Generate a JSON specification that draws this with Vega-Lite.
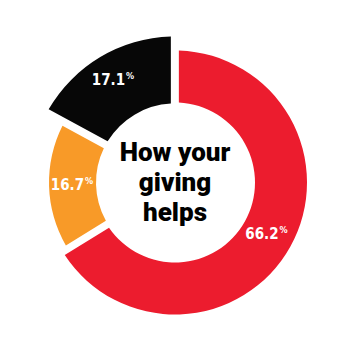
{
  "$schema": "https://vega.github.io/schema/vega-lite/v6.json",
  "width": 350,
  "height": 350,
  "autosize": {"type": "fit", "contains": "padding"},
  "padding": {"top": 15, "bottom": 0, "left": 0, "right": 0},
  "background": "white",
  "config": {"view": {"stroke": null}},
  "layer": [
    {
      "data": {"values": [
        {"segment": "Segment A", "share": 66.2},
        {"segment": "Segment B", "share": 16.7},
        {"segment": "Segment C", "share": 17.1}
      ]},
      "layer": [
        {
          "transform": [
            {"stack": "share", "groupby": [], "sort": [{"field": "segment", "order": "ascending"}], "as": ["s0", "s1"]}
          ],
          "encoding": {
            "theta": {"field": "s0", "type": "quantitative", "scale": {"domain": [0, 100]}},
            "theta2": {"field": "s1"},
            "color": {"field": "segment", "type": "nominal", "scale": {"domain": ["Segment A", "Segment B", "Segment C"], "range": ["#ec1c2e", "#f89a28", "#070707"]}, "legend": null}
          },
          "layer": [
            {
              "transform": [{"filter": "datum.segment === 'Segment A'"}],
              "mark": {"type": "arc", "radius": 132, "radius2": 80, "padAngle": 0.05}
            },
            {
              "transform": [{"filter": "datum.segment === 'Segment B'"}],
              "mark": {"type": "arc", "radius": 126, "radius2": 79, "padAngle": 0.05}
            },
            {
              "transform": [{"filter": "datum.segment === 'Segment C'"}],
              "mark": {"type": "arc", "radius": 146, "radius2": 79, "padAngle": 0.05}
            }
          ]
        },
        {
          "encoding": {
            "theta": {"field": "share", "type": "quantitative", "stack": true},
            "order": {"field": "segment", "type": "ordinal", "sort": "ascending"},
            "color": {"value": "white"}
          },
          "layer": [
            {
              "mark": {"type": "text", "radius": 106, "align": "right", "baseline": "middle", "dx": 11, "font": "DejaVu Sans Condensed, Roboto Condensed, Roboto, sans-serif", "fontWeight": "bold", "fontSize": 15},
              "encoding": {"text": {"condition": {"test": "datum.segment === 'Segment A'", "field": "share", "type": "quantitative", "format": ".1f"}, "value": ""}}
            },
            {
              "mark": {"type": "text", "radius": 102, "align": "right", "baseline": "middle", "dx": 11, "font": "DejaVu Sans Condensed, Roboto Condensed, Roboto, sans-serif", "fontWeight": "bold", "fontSize": 15},
              "encoding": {"text": {"condition": {"test": "datum.segment === 'Segment B'", "field": "share", "type": "quantitative", "format": ".1f"}, "value": ""}}
            },
            {
              "mark": {"type": "text", "radius": 119, "align": "right", "baseline": "middle", "dx": 11, "font": "DejaVu Sans Condensed, Roboto Condensed, Roboto, sans-serif", "fontWeight": "bold", "fontSize": 15},
              "encoding": {"text": {"condition": {"test": "datum.segment === 'Segment C'", "field": "share", "type": "quantitative", "format": ".1f"}, "value": ""}}
            },
            {
              "mark": {"type": "text", "radius": 106, "align": "left", "baseline": "middle", "dx": 12, "dy": -4, "font": "DejaVu Sans Condensed, Roboto Condensed, Roboto, sans-serif", "fontWeight": "bold", "fontSize": 9},
              "encoding": {"text": {"condition": {"test": "datum.segment === 'Segment A'", "value": "%"}, "value": ""}}
            },
            {
              "mark": {"type": "text", "radius": 102, "align": "left", "baseline": "middle", "dx": 12, "dy": -4, "font": "DejaVu Sans Condensed, Roboto Condensed, Roboto, sans-serif", "fontWeight": "bold", "fontSize": 9},
              "encoding": {"text": {"condition": {"test": "datum.segment === 'Segment B'", "value": "%"}, "value": ""}}
            },
            {
              "mark": {"type": "text", "radius": 119, "align": "left", "baseline": "middle", "dx": 12, "dy": -4, "font": "DejaVu Sans Condensed, Roboto Condensed, Roboto, sans-serif", "fontWeight": "bold", "fontSize": 9},
              "encoding": {"text": {"condition": {"test": "datum.segment === 'Segment C'", "value": "%"}, "value": ""}}
            }
          ]
        }
      ]
    },
    {
      "data": {"values": [{"title": ["How your", "giving", "helps"]}]},
      "mark": {"type": "text", "align": "center", "baseline": "middle", "dy": -30, "font": "Roboto", "fontWeight": 900, "fontSize": 26, "lineHeight": 30, "fill": "#000000"},
      "encoding": {
        "text": {"field": "title"}
      }
    }
  ]
}
